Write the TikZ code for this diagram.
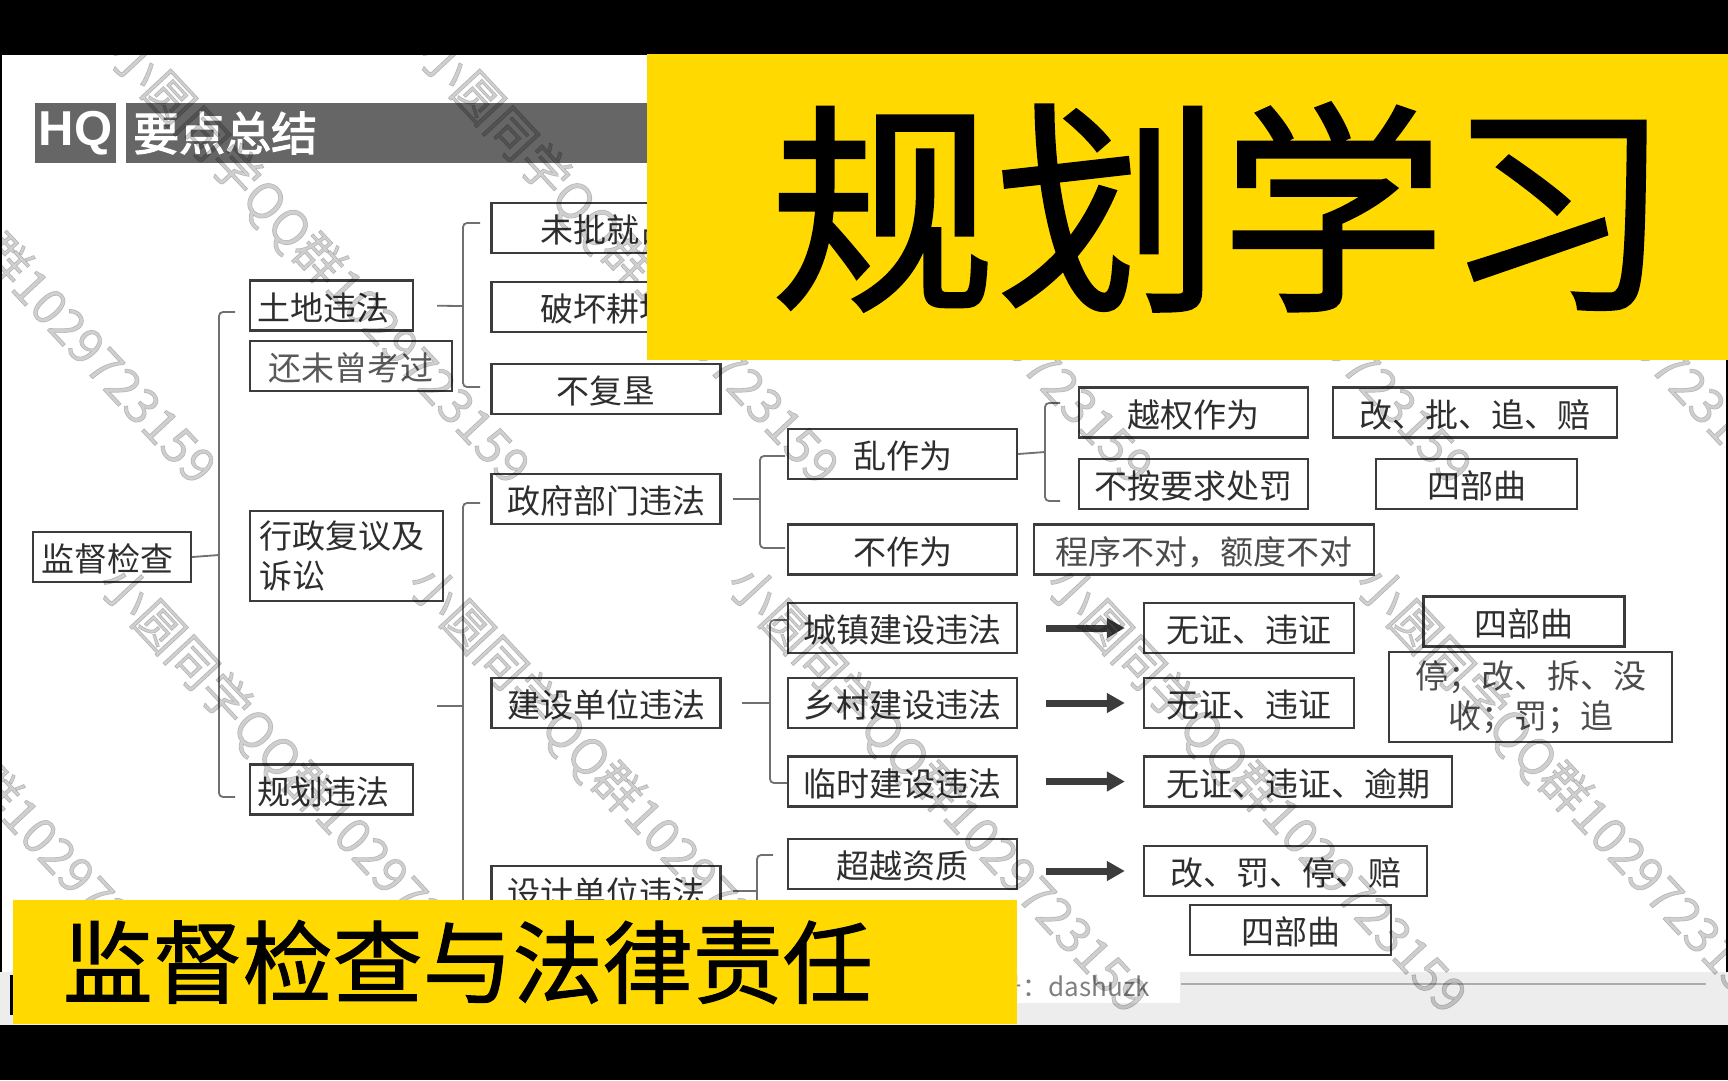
\documentclass[tikz,border=0pt]{standalone}
\usepackage{fontspec}
\setmainfont{Noto Sans CJK SC}
\newfontfamily\cjk{Noto Sans CJK SC}
\newfontfamily\cjkbold[FakeBold=1.2]{Noto Sans CJK SC}
\newfontfamily\cjkheavy[FakeBold=2.6]{Noto Sans CJK SC}
\newfontfamily\latinhead{Liberation Sans}
\usetikzlibrary{arrows.meta}
\definecolor{bandyellow}{HTML}{FFD900}
\definecolor{boxline}{HTML}{3C3C3C}
\definecolor{braceline}{HTML}{707070}
\definecolor{headgray}{HTML}{666666}
\tikzset{
  boxbase/.style={draw=boxline,line width=2.4pt,fill=white,inner sep=0pt,text=black!82,
    font=\cjk\fontsize{33}{40}\selectfont,align=center},
  box/.style={boxbase,text height=33pt,text depth=4pt},
  boxa/.style={box,minimum width=229pt,minimum height=50pt},
  boxb/.style={box,minimum width=210pt,minimum height=50pt},
  boxc/.style={box,minimum width=201pt,minimum height=50pt},
  boxd/.style={box,minimum width=163pt,minimum height=50pt,text width=149pt,align=left},
  brace/.style={draw=braceline,line width=1.8pt,rounded corners=4pt},
  fatarrow/.style={draw=boxline,line width=7pt,-{Triangle[length=18pt,width=19pt]},
    shorten <=28pt,shorten >=18pt},
  wmark/.style={rotate=-47,text=black,opacity=.19,font=\cjkbold\fontsize{49}{49}\selectfont},
  band/.style={fill=bandyellow,draw=none}
}
\begin{document}
\begin{tikzpicture}[x=1pt,y=-1pt]
  \useasboundingbox (0,0) rectangle (1728,1080);
  \fill[black] (0,0) rectangle (1728,1080);
  \fill[white] (2,55) rectangle (1726,972);
  \fill[black!7] (0,972) rectangle (1728,1025);
  \fill[black] (10,975) rectangle (13,1015);
  % heading
  \node[fill=headgray,minimum width=81pt,minimum height=60pt,inner sep=0pt,text=white,
    font=\latinhead\bfseries\fontsize{49}{49}\selectfont] (hq) at (75.5,133) {HQ};
  \node[fill=headgray,minimum width=521pt,minimum height=60pt,inner sep=0pt] (headbar) at (386.5,133) {};
  \node[text=white,inner sep=0pt,font=\cjkheavy\fontsize{46}{46}\selectfont,anchor=west] (headtext) at (133,133) {要点总结};
  % first levels
  \node[box,minimum width=158pt,minimum height=50pt,text width=142pt,align=left] (root) at (112,557) {监督检查};
  \node[boxd] (land) at (331.5,305.5) {土地违法};
  \node[box,minimum width=202pt,minimum height=50pt,text=black!65] (never) at (351,366) {还未曾考过};
  \node[boxbase,minimum width=193pt,minimum height=90pt,align=left,text width=175pt] (review) at (346.5,556) {行政复议及\\诉讼};
  \node[boxd] (plan) at (331.5,789.5) {规划违法};
  % second level
  \node[boxa] (noappr) at (606,228) {未批就占};
  \node[boxa] (farm) at (606,307) {破坏耕地};
  \node[boxa] (noland) at (606,389) {不复垦};
  \node[boxa] (gov) at (606,499) {政府部门违法};
  \node[boxa] (build) at (606,703) {建设单位违法};
  \node[boxa] (design) at (606,891) {设计单位违法};
  % third level
  \node[boxa] (chaos) at (902.5,454) {乱作为};
  \node[boxa] (idle) at (902.5,549.5) {不作为};
  \node[boxa] (city) at (902.5,628) {城镇建设违法};
  \node[boxa] (town) at (902.5,703) {乡村建设违法};
  \node[boxa] (temp) at (902.5,781.5) {临时建设违法};
  \node[boxa] (excess) at (902.5,864) {超越资质};
  % right side
  \node[boxa] (overstep) at (1193.5,412.5) {越权作为};
  \node[boxa] (nopunish) at (1193.5,484) {不按要求处罚};
  \node[box,minimum width=284pt,minimum height=50pt] (fixa) at (1475,412.5) {改、批、追、赔};
  \node[boxc] (foura) at (1476.5,484) {四部曲};
  \node[box,minimum width=340pt,minimum height=50pt,text=black!70] (wrong) at (1204,549.5) {程序不对，额度不对};
  \node[boxb] (citycert) at (1249,628) {无证、违证};
  \node[boxb] (towncert) at (1249,703) {无证、违证};
  \node[box,minimum width=308pt,minimum height=50pt] (tempcert) at (1298,781.5) {无证、违证、逾期};
  \node[boxc] (fourb) at (1524,621.5) {四部曲};
  \node[boxbase,minimum width=283pt,minimum height=90pt,text=black!70] (stop) at (1530.5,697) {停；改、拆、没\\收；罚；追};
  \node[box,minimum width=283pt,minimum height=50pt] (fixb) at (1285.5,871) {改、罚、停、赔};
  \node[boxc] (fourc) at (1290.5,930) {四部曲};
  % bracket joints
  \coordinate (rootv) at (219,555);
  \coordinate (rootup) at (235,312);
  \coordinate (rootdn) at (235,797);
  \coordinate (landv) at (463,306);
  \coordinate (landup) at (480,223);
  \coordinate (landdn) at (480,387);
  \coordinate (lawst) at (437,706);
  \coordinate (lawv) at (463,706);
  \coordinate (lawup) at (480,503);
  \coordinate (lawdn) at (480,960);
  \coordinate (govv) at (760,499);
  \coordinate (govup) at (785,456);
  \coordinate (govdn) at (785,548);
  \coordinate (buildv) at (770,703);
  \coordinate (buildup) at (787,620);
  \coordinate (builddn) at (787,783);
  \coordinate (designv) at (757,891);
  \coordinate (designup) at (773,855);
  \coordinate (designdn) at (773,960);
  \coordinate (chaosv) at (1045,452);
  \coordinate (chaosup) at (1060,403);
  \coordinate (chaosdn) at (1060,501);
  \begin{scope}[brace]
    \draw (root.east) -- (rootv);
    \draw (rootup) -| (rootv) |- (rootdn);
    \draw[shorten <=23pt] (land.east) -- (landv);
    \draw (landup) -| (landv) |- (landdn);
    \draw (lawst) -- (lawv);
    \draw (lawup) -| (lawv) |- (lawdn);
    \draw[shorten <=11pt] (gov.east) -- (govv);
    \draw (govup) -| (govv) |- (govdn);
    \draw[shorten <=20pt] (build.east) -- (buildv);
    \draw (buildup) -| (buildv) |- (builddn);
    \draw[shorten <=11pt] (design.east) -- (designv);
    \draw (designup) -| (designv) |- (designdn);
    \draw (chaos.east) -- (chaosv);
    \draw (chaosup) -| (chaosv) |- (chaosdn);
  \end{scope}
  % arrows
  \draw[fatarrow] (city) -- (citycert);
  \draw[fatarrow] (town) -- (towncert);
  \draw[fatarrow] (temp) -- (tempcert);
  \draw[fatarrow] (excess.east |- fixb) -- (fixb);
  % footer
  \node[fill=white,minimum width=180pt,minimum height=31pt,inner sep=0pt] (wechat) at (1090,987.5) {};
  \node[text=black!50,inner sep=0pt,font=\cjk\fontsize{26}{26}\selectfont,anchor=east] (wechattext) at (1150,987) {号：dashuzk};
  \coordinate (rulefrom) at (1181,984);
  \coordinate (ruleto) at (1706,984);
  \draw[black!32,line width=2pt] (rulefrom) -- (ruleto);
  \fill[black] (1726,55) rectangle (1728,972);
  % watermarks
  \begin{scope}
    \clip (0,55) rectangle (1728,1025);
    \path
      (5,261) node[wmark] (w1){小圆同学QQ群1029723159}
      (319,261) node[wmark] (w2){小圆同学QQ群1029723159}
      (628,261) node[wmark] (w3){小圆同学QQ群1029723159}
      (942,261) node[wmark] (w4){小圆同学QQ群1029723159}
      (1261,261) node[wmark] (w5){小圆同学QQ群1029723159}
      (1570,261) node[wmark] (w6){小圆同学QQ群1029723159}
      (-5,790) node[wmark] (w7){小圆同学QQ群1029723159}
      (309,790) node[wmark] (w8){小圆同学QQ群1029723159}
      (618,790) node[wmark] (w9){小圆同学QQ群1029723159}
      (937,790) node[wmark] (w10){小圆同学QQ群1029723159}
      (1256,790) node[wmark] (w11){小圆同学QQ群1029723159}
      (1565,790) node[wmark] (w12){小圆同学QQ群1029723159};
  \end{scope}
  % yellow bands
  \node[band,minimum width=1081pt,minimum height=306pt,inner sep=0pt,
    font=\cjkbold\fontsize{225}{225}\selectfont] (title) at (1187.5,207) {\hspace{66pt}规划学习};
  \node[band,minimum width=1004pt,minimum height=124pt,inner sep=0pt,anchor=west,
    font=\cjkbold\fontsize{90}{90}\selectfont] (subtitle) at (13,962) {\hspace{-95pt}监督检查与法律责任};
\end{tikzpicture}
\end{document}
